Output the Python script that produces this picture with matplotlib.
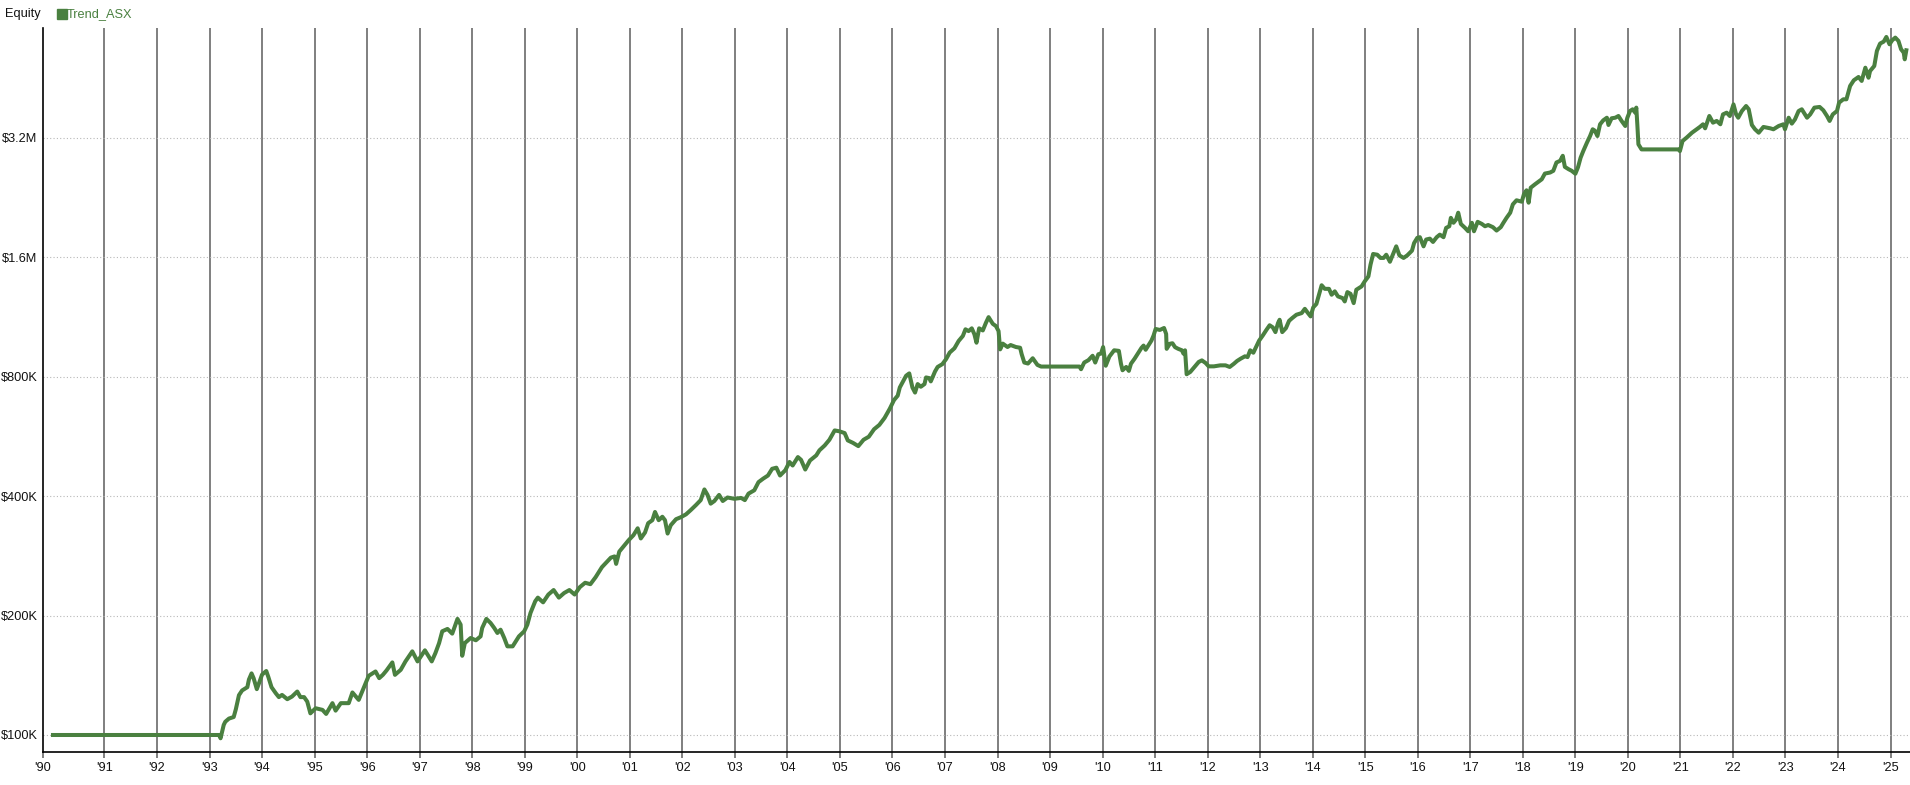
import numpy as np
import matplotlib
matplotlib.use("Agg")
import matplotlib.pyplot as plt
from matplotlib.patches import Rectangle
from matplotlib.ticker import FixedLocator, NullLocator

plt.rcParams['font.family'] = ['Liberation Sans', 'DejaVu Sans']

GREEN = '#4a8040'

# equity curve: decimal year, equity in $K
years = [
    1990.02, 1993.18, 1993.21, 1993.27, 1993.30, 1993.37, 1993.46, 1993.50, 1993.56, 1993.62,
    1993.72, 1993.75, 1993.80, 1993.84, 1993.90, 1993.95, 1994.00, 1994.08, 1994.12, 1994.18,
    1994.26, 1994.32, 1994.38, 1994.48, 1994.57, 1994.67, 1994.73, 1994.80, 1994.86, 1994.92,
    1995.02, 1995.15, 1995.22, 1995.34, 1995.40, 1995.50, 1995.65, 1995.72, 1995.84, 1995.94,
    1996.03, 1996.16, 1996.23, 1996.30, 1996.37, 1996.48, 1996.53, 1996.64, 1996.73, 1996.86,
    1996.96, 1997.10, 1997.23, 1997.30, 1997.37, 1997.43, 1997.53, 1997.62, 1997.72, 1997.78,
    1997.81, 1997.86, 1997.97, 1998.07, 1998.16, 1998.19, 1998.27, 1998.35, 1998.42, 1998.48,
    1998.54, 1998.61, 1998.67, 1998.77, 1998.89, 1998.99, 1999.05, 1999.11, 1999.20, 1999.25,
    1999.35, 1999.45, 1999.55, 1999.65, 1999.75, 1999.85, 1999.95, 2000.05, 2000.15, 2000.25,
    2000.35, 2000.47, 2000.55, 2000.64, 2000.71, 2000.74, 2000.80, 2000.90, 2000.98, 2001.07,
    2001.15, 2001.21, 2001.29, 2001.35, 2001.43, 2001.48, 2001.55, 2001.62, 2001.67, 2001.72,
    2001.78, 2001.88, 2001.97, 2002.07, 2002.16, 2002.26, 2002.35, 2002.42, 2002.48, 2002.54,
    2002.61, 2002.70, 2002.77, 2002.86, 2002.99, 2003.12, 2003.19, 2003.26, 2003.37, 2003.45,
    2003.54, 2003.63, 2003.71, 2003.79, 2003.86, 2003.96, 2004.04, 2004.10, 2004.20, 2004.26,
    2004.34, 2004.43, 2004.55, 2004.61, 2004.71, 2004.80, 2004.90, 2004.99, 2005.09, 2005.15,
    2005.25, 2005.35, 2005.45, 2005.55, 2005.65, 2005.75, 2005.85, 2005.95, 2006.03, 2006.10,
    2006.14, 2006.21, 2006.26, 2006.32, 2006.38, 2006.43, 2006.48, 2006.54, 2006.61, 2006.64,
    2006.70, 2006.73, 2006.81, 2006.86, 2006.95, 2007.02, 2007.09, 2007.18, 2007.26, 2007.34,
    2007.39, 2007.45, 2007.51, 2007.56, 2007.60, 2007.65, 2007.72, 2007.78, 2007.83, 2007.91,
    2007.97, 2008.02, 2008.05, 2008.10, 2008.19, 2008.25, 2008.35, 2008.43, 2008.46, 2008.51,
    2008.58, 2008.67, 2008.76, 2008.83, 2009.56, 2009.59, 2009.65, 2009.73, 2009.81, 2009.86,
    2009.92, 2009.97, 2010.01, 2010.06, 2010.13, 2010.22, 2010.31, 2010.35, 2010.38, 2010.45,
    2010.50, 2010.54, 2010.61, 2010.67, 2010.74, 2010.78, 2010.82, 2010.87, 2010.93, 2010.97,
    2011.01, 2011.09, 2011.17, 2011.21, 2011.22, 2011.28, 2011.33, 2011.38, 2011.44, 2011.51,
    2011.54, 2011.57, 2011.60, 2011.67, 2011.74, 2011.83, 2011.89, 2011.96, 2012.02, 2012.12,
    2012.24, 2012.34, 2012.42, 2012.50, 2012.56, 2012.63, 2012.71, 2012.76, 2012.81, 2012.87,
    2012.92, 2012.98, 2013.05, 2013.12, 2013.18, 2013.24, 2013.29, 2013.34, 2013.37, 2013.42,
    2013.49, 2013.55, 2013.61, 2013.69, 2013.79, 2013.85, 2013.91, 2013.96, 2014.01, 2014.07,
    2014.12, 2014.17, 2014.23, 2014.31, 2014.36, 2014.42, 2014.48, 2014.57, 2014.61, 2014.66,
    2014.72, 2014.78, 2014.83, 2014.93, 2014.99, 2015.06, 2015.10, 2015.15, 2015.23, 2015.29,
    2015.35, 2015.40, 2015.47, 2015.59, 2015.65, 2015.73, 2015.80, 2015.89, 2015.93, 2015.99,
    2016.04, 2016.11, 2016.16, 2016.23, 2016.29, 2016.36, 2016.42, 2016.49, 2016.54, 2016.60,
    2016.63, 2016.68, 2016.73, 2016.77, 2016.82, 2016.90, 2016.96, 2017.03, 2017.07, 2017.14,
    2017.22, 2017.28, 2017.34, 2017.43, 2017.50, 2017.58, 2017.63, 2017.69, 2017.76, 2017.81,
    2017.88, 2017.98, 2018.02, 2018.07, 2018.11, 2018.15, 2018.23, 2018.30, 2018.36, 2018.42,
    2018.52, 2018.58, 2018.64, 2018.71, 2018.76, 2018.80, 2018.87, 2018.93, 2019.00, 2019.05,
    2019.10, 2019.15, 2019.22, 2019.28, 2019.33, 2019.37, 2019.42, 2019.47, 2019.53, 2019.60,
    2019.63, 2019.69, 2019.76, 2019.82, 2019.88, 2019.95, 2019.99, 2020.04, 2020.09, 2020.14,
    2020.16, 2020.18, 2020.20, 2020.26, 2020.96, 2020.99, 2021.04, 2021.12, 2021.22, 2021.31,
    2021.37, 2021.43, 2021.47, 2021.55, 2021.62, 2021.69, 2021.76, 2021.81, 2021.88, 2021.94,
    2022.01, 2022.06, 2022.10, 2022.17, 2022.25, 2022.30, 2022.36, 2022.42, 2022.49, 2022.58,
    2022.71, 2022.77, 2022.87, 2022.96, 2022.99, 2023.06, 2023.12, 2023.18, 2023.25, 2023.31,
    2023.41, 2023.47, 2023.55, 2023.65, 2023.72, 2023.79, 2023.84, 2023.90, 2023.98, 2024.02,
    2024.10, 2024.16, 2024.23, 2024.30, 2024.39, 2024.45, 2024.52, 2024.58, 2024.61, 2024.69,
    2024.74, 2024.80, 2024.87, 2024.92, 2024.98, 2025.03, 2025.09, 2025.15, 2025.20, 2025.25,
    2025.27, 2025.30,
]
equity_k = [
    100, 100, 98.1, 106, 108, 110, 111, 116, 126, 129.5,
    132, 138, 143, 139, 130.5, 136, 142, 145, 140, 132,
    127.5, 124.6, 126.2, 123.1, 125, 128.7, 124.6, 124.6, 121.4, 113.4,
    116.8, 115.7, 113, 120.3, 115.2, 120.3, 120.3, 128, 122.6, 132,
    141, 144.6, 139.1, 141.8, 145.5, 152.4, 141.8, 146, 153.3, 162.5,
    153.3, 163.5, 153.3, 160.9, 170.5, 182.6, 185.1, 180.1, 196.2, 189.8,
    158.4, 170.5, 175.6, 173.3, 177.3, 186.1, 196.2, 191.6, 186.1, 180.8,
    184.3, 175.6, 167.3, 167.3, 177.3, 182.6, 189.8, 203.1, 217.4, 222,
    216, 226, 232, 222, 228, 232, 226, 236, 242, 240,
    250, 265, 272, 280, 282, 270, 290, 301, 310, 319,
    332, 313, 324, 342, 348, 365, 348, 355, 348, 322,
    338, 350, 354, 360, 369, 380, 391, 416, 403, 383,
    389, 403, 389, 397, 394, 396, 391, 406, 414, 434,
    443, 451, 469, 472, 451, 465, 488, 478, 502, 494,
    467, 492, 507, 522, 537, 555, 586, 583, 577, 553,
    545, 535, 555, 565, 590, 605, 630, 665, 699, 717,
    752, 782, 805, 816, 752, 730, 767, 755, 767, 797,
    794, 779, 825, 847, 861, 886, 921, 944, 985, 1014,
    1054, 1043, 1060, 1024, 975, 1060, 1047, 1095, 1131, 1088,
    1074, 1043, 938, 970, 951, 962, 951, 947, 912, 869,
    864, 891, 857, 849, 849, 836, 869, 881, 904, 869,
    912, 915, 951, 853, 900, 933, 930, 863, 831, 847,
    828, 863, 889, 915, 946, 959, 936, 959, 987, 1016,
    1056, 1050, 1062, 1026, 941, 969, 972, 950, 941, 933,
    915, 933, 812, 823, 844, 872, 880, 867, 850, 850,
    855, 855, 847, 863, 877, 889, 901, 897, 933, 920,
    950, 987, 1017, 1051, 1079, 1066, 1037, 1093, 1114, 1037,
    1061, 1107, 1125, 1147, 1158, 1187, 1158, 1136, 1197, 1221,
    1288, 1361, 1333, 1333, 1288, 1314, 1276, 1263, 1239, 1308,
    1295, 1227, 1326, 1352, 1392, 1433, 1533, 1632, 1625, 1595,
    1595, 1625, 1560, 1706, 1619, 1595, 1619, 1664, 1739, 1792,
    1799, 1706, 1775, 1784, 1750, 1799, 1826, 1799, 1899, 1917,
    2013, 1956, 1994, 2074, 1943, 1899, 1862, 1956, 1862, 1967,
    1943, 1917, 1931, 1907, 1870, 1907, 1956, 2013, 2074, 2177,
    2229, 2211, 2307, 2362, 2198, 2398, 2445, 2484, 2518, 2603,
    2619, 2645, 2776, 2803, 2886, 2706, 2670, 2645, 2600, 2700,
    2855, 2966, 3114, 3237, 3366, 3340, 3237, 3465, 3545, 3600,
    3451, 3588, 3600, 3636, 3533, 3431, 3600, 3743, 3780, 3707,
    3817, 3451, 3085, 2995, 2995, 2966, 3144, 3209, 3300, 3366,
    3412, 3465, 3385, 3636, 3498, 3533, 3465, 3670, 3707, 3636,
    3890, 3670, 3600, 3743, 3853, 3780, 3451, 3366, 3300, 3412,
    3385, 3366, 3431, 3465, 3366, 3600, 3478, 3565, 3743, 3780,
    3600, 3670, 3817, 3832, 3758, 3636, 3533, 3670, 3743, 3929,
    4006, 4006, 4329, 4473, 4560, 4457, 4813, 4540, 4721, 4861,
    5305, 5536, 5600, 5753, 5514, 5642, 5731, 5622, 5356, 5253,
    5053, 5325,
]

year_ticks = list(range(1991, 2026))
x_labels = ["'90"] + ["'%02d" % (y % 100) for y in year_ticks]
y_ticks_k = [100, 200, 400, 800, 1600, 3200]
y_labels = ['$100K', '$200K', '$400K', '$800K', '$1.6M', '$3.2M']

x_start, x_end = 1989.83, 2025.37

fig = plt.figure(figsize=(19.1, 7.85), dpi=100)
ax = fig.add_axes([43 / 1910, 1 - 752 / 785, 1 - 43 / 1910, (752 - 28) / 785])

ax.plot(years, np.array(equity_k) * 1000, color=GREEN, lw=2.9, zorder=3)

ax.set_yscale('log')
ax.set_xlim(x_start, x_end)
ax.set_ylim(90.6e3, 6.06e6)

ax.yaxis.set_major_locator(FixedLocator([v * 1000 for v in y_ticks_k]))
ax.yaxis.set_minor_locator(NullLocator())
ax.set_yticklabels(y_labels)
ax.xaxis.set_major_locator(FixedLocator([x_start] + year_ticks))
ax.set_xticklabels(x_labels)

ax.tick_params(axis='y', length=0, pad=4, labelsize=9.2, labelcolor='#111111')
ax.tick_params(axis='x', length=4.5, width=1.1, color='#5c5c5c', pad=3,
               labelsize=9.2, labelcolor='#111111')

# year lines (dark grey) and dotted value lines
for y in year_ticks:
    ax.axvline(y, color='#5c5c5c', lw=1.1, zorder=1)
ax.grid(axis='y', color='#b8b8b8', lw=0.8, ls=(0, (1, 2)), zorder=0)

for s in ['top', 'right']:
    ax.spines[s].set_visible(False)
for s in ['left', 'bottom']:
    ax.spines[s].set_color('black')
    ax.spines[s].set_linewidth(1.2)

# legend row
fig.text(5 / 1910, 1 - 14 / 785, 'Equity', fontsize=9.2, color='#111111', va='center')
fig.patches.append(Rectangle((57 / 1910, 1 - 18.5 / 785), 9.5 / 1910, 9.5 / 785,
                             transform=fig.transFigure, color=GREEN))
fig.text(67 / 1910, 1 - 14 / 785, 'Trend_ASX', fontsize=9.2, color=GREEN, va='center')

fig.savefig('out.png', dpi=100)
